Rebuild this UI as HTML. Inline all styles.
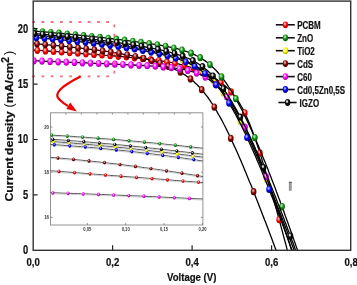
<!DOCTYPE html>
<html><head><meta charset="utf-8"><style>
html,body{margin:0;padding:0;background:#fff;width:357px;height:285px;overflow:hidden}
svg{display:block}
</style></head><body>
<svg width="357" height="285" viewBox="0 0 357 285">
<defs>
<radialGradient id="gred" cx="0.42" cy="0.36" r="0.65"><stop offset="0" stop-color="#ffb0b0"/><stop offset="0.12" stop-color="#ffb0b0"/><stop offset="0.5" stop-color="#ff0000"/><stop offset="1" stop-color="#b00000"/></radialGradient>
<radialGradient id="ggreen" cx="0.42" cy="0.36" r="0.65"><stop offset="0" stop-color="#a0e8a0"/><stop offset="0.12" stop-color="#a0e8a0"/><stop offset="0.5" stop-color="#109010"/><stop offset="1" stop-color="#045004"/></radialGradient>
<radialGradient id="gyellow" cx="0.42" cy="0.36" r="0.65"><stop offset="0" stop-color="#ffffc0"/><stop offset="0.12" stop-color="#ffffc0"/><stop offset="0.5" stop-color="#ffff00"/><stop offset="1" stop-color="#a8a800"/></radialGradient>
<radialGradient id="gdarkred" cx="0.42" cy="0.36" r="0.65"><stop offset="0" stop-color="#e0a0a0"/><stop offset="0.12" stop-color="#e0a0a0"/><stop offset="0.5" stop-color="#8b0000"/><stop offset="1" stop-color="#420000"/></radialGradient>
<radialGradient id="gmagenta" cx="0.42" cy="0.36" r="0.65"><stop offset="0" stop-color="#ffb8ff"/><stop offset="0.12" stop-color="#ffb8ff"/><stop offset="0.5" stop-color="#ff00ff"/><stop offset="1" stop-color="#a000a0"/></radialGradient>
<radialGradient id="gblue" cx="0.42" cy="0.36" r="0.65"><stop offset="0" stop-color="#a0a0ff"/><stop offset="0.12" stop-color="#a0a0ff"/><stop offset="0.5" stop-color="#0000ff"/><stop offset="1" stop-color="#000088"/></radialGradient>
<radialGradient id="gblack" cx="0.4" cy="0.36" r="0.6"><stop offset="0" stop-color="#ffffff"/><stop offset="0.22" stop-color="#bbbbbb"/><stop offset="0.45" stop-color="#111"/><stop offset="1" stop-color="#000"/></radialGradient>
<clipPath id="cm"><rect x="33.1" y="1.2" width="317.6" height="249.1"/></clipPath>
<clipPath id="ci"><rect x="50.5" y="112.8" width="152.4" height="112.2"/></clipPath>
</defs>
<g clip-path="url(#cm)">
<polyline points="33.1,50.0 37.9,50.4 42.7,50.7 47.5,51.0 52.3,51.4 57.1,51.7 61.9,52.1 66.7,52.4 71.5,52.8 76.3,53.1 81.1,53.5 85.9,53.8 90.7,54.2 95.5,54.5 100.3,54.9 105.1,55.3 109.9,55.6 114.7,56.0 119.5,56.4 124.3,56.8 129.0,57.3 133.8,57.7 138.6,58.2 143.4,58.7 148.2,59.2 153.0,59.8 157.8,60.4 162.6,61.1 167.4,61.8 172.2,62.7 172.2,62.7 173.2,62.9 174.2,63.1 175.2,63.3 176.2,63.5 177.2,63.7 178.2,63.9 179.2,64.1 180.2,64.4 181.2,64.6 182.2,64.9 183.2,65.1 184.2,65.4 185.2,65.6 186.2,65.9 187.2,66.2 188.2,66.5 189.2,66.8 190.2,67.1 191.2,67.4 192.2,67.7 193.2,68.0 194.2,68.4 195.2,68.7 196.2,69.1 197.2,69.5 198.3,69.8 199.3,70.2 200.3,70.6 201.3,71.1 202.3,71.5 203.3,71.9 204.3,72.4 205.3,72.9 206.3,73.4 207.3,73.9 208.3,74.4 209.3,74.9 210.3,75.5 211.3,76.0 212.3,76.6 213.3,77.2 214.3,77.8 215.3,78.5 216.3,79.1 217.3,79.8 218.3,80.5 219.3,81.2 220.3,82.0 221.3,82.7 222.3,83.5 223.3,84.4 224.3,85.2 225.3,86.1 226.3,87.0 227.3,87.9 228.3,88.9 229.3,89.9 230.3,91.0 231.3,92.1 232.3,93.2 233.3,94.4 234.3,95.7 235.3,97.0 236.3,98.3 237.3,99.8 238.3,101.3 239.3,102.8 240.3,104.5 241.3,106.2 242.3,108.0 243.3,109.9 244.3,111.9 245.3,114.0 246.3,116.1 247.3,118.4 248.3,120.7 249.3,123.1 250.3,125.6 251.3,128.2 252.3,130.8 253.3,133.5 254.3,136.3 255.3,139.1 256.3,142.0 257.3,145.0 258.3,148.0 259.3,151.1 260.3,154.2 261.3,157.4 262.3,160.6 263.3,163.9 264.3,167.2 265.3,170.5 266.3,173.9 267.3,177.3 268.3,180.7 269.3,184.2 270.3,187.7 271.3,191.2 272.3,194.7 273.3,198.3 274.3,201.9 275.3,205.5 276.3,209.1 277.3,212.8 278.3,216.5 279.3,220.1 280.3,223.8 281.3,227.6 282.3,231.3 283.3,235.1 284.3,238.8 285.3,242.6 286.3,246.4 287.3,250.2 288.3,254.0 289.3,257.8 290.3,261.7 291.3,265.5" fill="none" stroke="#000" stroke-width="1.3"/>
<ellipse cx="37.3" cy="50.3" rx="2.85" ry="3.6" fill="url(#gred)"/>
<ellipse cx="45.4" cy="50.9" rx="2.85" ry="3.6" fill="url(#gred)"/>
<ellipse cx="53.5" cy="51.5" rx="2.85" ry="3.6" fill="url(#gred)"/>
<ellipse cx="61.6" cy="52.0" rx="2.85" ry="3.6" fill="url(#gred)"/>
<ellipse cx="69.7" cy="52.6" rx="2.85" ry="3.6" fill="url(#gred)"/>
<ellipse cx="77.8" cy="53.2" rx="2.85" ry="3.6" fill="url(#gred)"/>
<ellipse cx="85.9" cy="53.8" rx="2.85" ry="3.6" fill="url(#gred)"/>
<ellipse cx="94.0" cy="54.4" rx="2.85" ry="3.6" fill="url(#gred)"/>
<ellipse cx="102.1" cy="55.0" rx="2.85" ry="3.6" fill="url(#gred)"/>
<ellipse cx="110.2" cy="55.7" rx="2.85" ry="3.6" fill="url(#gred)"/>
<ellipse cx="118.3" cy="56.3" rx="2.85" ry="3.6" fill="url(#gred)"/>
<ellipse cx="126.4" cy="57.0" rx="2.85" ry="3.6" fill="url(#gred)"/>
<ellipse cx="134.5" cy="57.8" rx="2.85" ry="3.6" fill="url(#gred)"/>
<ellipse cx="142.6" cy="58.6" rx="2.85" ry="3.6" fill="url(#gred)"/>
<ellipse cx="150.7" cy="59.5" rx="2.85" ry="3.6" fill="url(#gred)"/>
<ellipse cx="158.8" cy="60.5" rx="2.85" ry="3.6" fill="url(#gred)"/>
<ellipse cx="166.9" cy="61.8" rx="2.85" ry="3.6" fill="url(#gred)"/>
<ellipse cx="175.0" cy="63.2" rx="2.85" ry="3.6" fill="url(#gred)"/>
<ellipse cx="184.5" cy="65.4" rx="2.85" ry="3.6" fill="url(#gred)"/>
<ellipse cx="193.5" cy="68.1" rx="2.85" ry="3.6" fill="url(#gred)"/>
<ellipse cx="202.5" cy="71.6" rx="2.85" ry="3.6" fill="url(#gred)"/>
<ellipse cx="211.7" cy="76.3" rx="2.85" ry="3.6" fill="url(#gred)"/>
<ellipse cx="220.9" cy="82.5" rx="2.85" ry="3.6" fill="url(#gred)"/>
<ellipse cx="231.1" cy="91.9" rx="2.85" ry="3.6" fill="url(#gred)"/>
<ellipse cx="244.8" cy="112.9" rx="2.85" ry="3.6" fill="url(#gred)"/>
<ellipse cx="259.9" cy="152.9" rx="2.85" ry="3.6" fill="url(#gred)"/>
<ellipse cx="279.2" cy="219.7" rx="2.85" ry="3.6" fill="url(#gred)"/>
<ellipse cx="288.3" cy="253.9" rx="2.85" ry="3.6" fill="url(#gred)"/>
<polyline points="33.1,31.0 37.9,31.4 42.7,31.8 47.5,32.2 52.3,32.6 57.1,33.1 61.9,33.5 66.7,34.0 71.5,34.4 76.3,34.9 81.1,35.4 85.9,35.9 90.7,36.4 95.5,36.9 100.3,37.4 105.1,37.9 109.9,38.5 114.7,39.0 119.5,39.6 124.3,40.2 129.0,40.8 133.8,41.4 138.6,42.1 143.4,42.7 148.2,43.4 153.0,44.1 157.8,44.9 162.6,45.7 167.4,46.6 172.2,47.6 172.2,47.6 173.3,47.9 174.4,48.1 175.5,48.4 176.6,48.6 177.7,48.9 178.7,49.2 179.8,49.5 180.9,49.8 182.0,50.1 183.1,50.4 184.2,50.7 185.3,51.1 186.4,51.4 187.4,51.8 188.5,52.2 189.6,52.6 190.7,53.0 191.8,53.5 192.9,53.9 194.0,54.4 195.0,54.9 196.1,55.5 197.2,56.0 198.3,56.6 199.4,57.2 200.5,57.8 201.6,58.5 202.7,59.2 203.7,59.9 204.8,60.6 205.9,61.4 207.0,62.2 208.1,63.1 209.2,64.0 210.3,64.9 211.3,65.9 212.4,66.9 213.5,67.9 214.6,69.0 215.7,70.1 216.8,71.3 217.9,72.5 219.0,73.8 220.0,75.1 221.1,76.4 222.2,77.8 223.3,79.2 224.4,80.7 225.5,82.2 226.6,83.7 227.6,85.3 228.7,87.0 229.8,88.7 230.9,90.4 232.0,92.2 233.1,94.0 234.2,95.8 235.3,97.7 236.3,99.6 237.4,101.6 238.5,103.6 239.6,105.6 240.7,107.7 241.8,109.8 242.9,112.0 243.9,114.2 245.0,116.4 246.1,118.6 247.2,120.9 248.3,123.2 249.4,125.5 250.5,127.9 251.6,130.3 252.6,132.7 253.7,135.2 254.8,137.7 255.9,140.2 257.0,142.7 258.1,145.2 259.2,147.8 260.2,150.4 261.3,153.1 262.4,155.7 263.5,158.4 264.6,161.1 265.7,163.8 266.8,166.5 267.9,169.2 268.9,172.0 270.0,174.8 271.1,177.6 272.2,180.4 273.3,183.3 274.4,186.1 275.5,189.0 276.5,191.9 277.6,194.8 278.7,197.7 279.8,200.6 280.9,203.6 282.0,206.5 283.1,209.5 284.2,212.5 285.2,215.5 286.3,218.5 287.4,221.5 288.5,224.5 289.6,227.6 290.7,230.7 291.8,233.7 292.8,236.8 293.9,239.9 295.0,243.0 296.1,246.1 297.2,249.2 298.3,252.4 299.4,255.5 300.5,258.7 301.5,261.8" fill="none" stroke="#000" stroke-width="1.3"/>
<ellipse cx="34.4" cy="31.1" rx="2.85" ry="3.6" fill="url(#ggreen)"/>
<ellipse cx="42.6" cy="31.8" rx="2.85" ry="3.6" fill="url(#ggreen)"/>
<ellipse cx="50.8" cy="32.5" rx="2.85" ry="3.6" fill="url(#ggreen)"/>
<ellipse cx="59.0" cy="33.2" rx="2.85" ry="3.6" fill="url(#ggreen)"/>
<ellipse cx="67.2" cy="34.0" rx="2.85" ry="3.6" fill="url(#ggreen)"/>
<ellipse cx="75.4" cy="34.8" rx="2.85" ry="3.6" fill="url(#ggreen)"/>
<ellipse cx="83.6" cy="35.6" rx="2.85" ry="3.6" fill="url(#ggreen)"/>
<ellipse cx="91.8" cy="36.5" rx="2.85" ry="3.6" fill="url(#ggreen)"/>
<ellipse cx="100.0" cy="37.4" rx="2.85" ry="3.6" fill="url(#ggreen)"/>
<ellipse cx="108.2" cy="38.3" rx="2.85" ry="3.6" fill="url(#ggreen)"/>
<ellipse cx="116.4" cy="39.2" rx="2.85" ry="3.6" fill="url(#ggreen)"/>
<ellipse cx="124.6" cy="40.2" rx="2.85" ry="3.6" fill="url(#ggreen)"/>
<ellipse cx="132.8" cy="41.3" rx="2.85" ry="3.6" fill="url(#ggreen)"/>
<ellipse cx="141.0" cy="42.4" rx="2.85" ry="3.6" fill="url(#ggreen)"/>
<ellipse cx="149.2" cy="43.6" rx="2.85" ry="3.6" fill="url(#ggreen)"/>
<ellipse cx="157.4" cy="44.8" rx="2.85" ry="3.6" fill="url(#ggreen)"/>
<ellipse cx="165.6" cy="46.3" rx="2.85" ry="3.6" fill="url(#ggreen)"/>
<ellipse cx="173.8" cy="48.0" rx="2.85" ry="3.6" fill="url(#ggreen)"/>
<ellipse cx="182.0" cy="50.1" rx="2.85" ry="3.6" fill="url(#ggreen)"/>
<ellipse cx="191.0" cy="53.2" rx="2.85" ry="3.6" fill="url(#ggreen)"/>
<ellipse cx="200.2" cy="57.7" rx="2.85" ry="3.6" fill="url(#ggreen)"/>
<ellipse cx="209.9" cy="64.6" rx="2.85" ry="3.6" fill="url(#ggreen)"/>
<ellipse cx="221.5" cy="76.9" rx="2.85" ry="3.6" fill="url(#ggreen)"/>
<ellipse cx="235.8" cy="98.7" rx="2.85" ry="3.6" fill="url(#ggreen)"/>
<ellipse cx="254.8" cy="137.6" rx="2.85" ry="3.6" fill="url(#ggreen)"/>
<ellipse cx="282.0" cy="206.6" rx="2.85" ry="3.6" fill="url(#ggreen)"/>
<polyline points="33.1,35.0 37.9,35.4 42.7,35.9 47.5,36.3 52.3,36.8 57.1,37.2 61.9,37.7 66.7,38.2 71.5,38.8 76.3,39.3 81.1,39.9 85.9,40.4 90.7,41.0 95.5,41.7 100.3,42.3 105.1,43.0 109.9,43.6 114.7,44.4 119.5,45.1 124.3,45.9 129.0,46.7 133.8,47.5 138.6,48.3 143.4,49.2 148.2,50.2 153.0,51.2 157.8,52.2 162.6,53.4 167.4,54.6 172.2,55.9 172.2,55.9 173.3,56.3 174.3,56.6 175.4,56.9 176.5,57.3 177.5,57.6 178.6,58.0 179.6,58.3 180.7,58.7 181.7,59.1 182.8,59.5 183.9,60.0 184.9,60.4 186.0,60.8 187.0,61.3 188.1,61.8 189.1,62.3 190.2,62.8 191.3,63.3 192.3,63.9 193.4,64.4 194.4,65.0 195.5,65.6 196.6,66.3 197.6,67.0 198.7,67.6 199.7,68.4 200.8,69.1 201.8,69.9 202.9,70.7 204.0,71.5 205.0,72.4 206.1,73.2 207.1,74.2 208.2,75.1 209.2,76.1 210.3,77.1 211.4,78.2 212.4,79.3 213.5,80.4 214.5,81.6 215.6,82.8 216.6,84.0 217.7,85.3 218.8,86.6 219.8,88.0 220.9,89.4 221.9,90.8 223.0,92.3 224.1,93.8 225.1,95.3 226.2,96.9 227.2,98.5 228.3,100.1 229.3,101.8 230.4,103.5 231.5,105.3 232.5,107.1 233.6,108.9 234.6,110.7 235.7,112.6 236.7,114.5 237.8,116.5 238.9,118.4 239.9,120.5 241.0,122.5 242.0,124.6 243.1,126.6 244.1,128.8 245.2,130.9 246.3,133.1 247.3,135.3 248.4,137.5 249.4,139.7 250.5,142.0 251.6,144.3 252.6,146.6 253.7,148.9 254.7,151.3 255.8,153.7 256.8,156.1 257.9,158.5 259.0,160.9 260.0,163.4 261.1,165.9 262.1,168.4 263.2,170.9 264.2,173.4 265.3,175.9 266.4,178.5 267.4,181.1 268.5,183.7 269.5,186.3 270.6,188.9 271.6,191.5 272.7,194.2 273.8,196.8 274.8,199.5 275.9,202.2 276.9,204.9 278.0,207.6 279.0,210.3 280.1,213.1 281.2,215.8 282.2,218.6 283.3,221.4 284.3,224.1 285.4,226.9 286.5,229.7 287.5,232.5 288.6,235.4 289.6,238.2 290.7,241.0 291.7,243.9 292.8,246.7 293.9,249.6 294.9,252.5 296.0,255.4 297.0,258.3 298.1,261.2" fill="none" stroke="#000" stroke-width="1.3"/>
<ellipse cx="34.4" cy="35.1" rx="2.85" ry="3.6" fill="url(#gyellow)"/>
<ellipse cx="42.6" cy="35.9" rx="2.85" ry="3.6" fill="url(#gyellow)"/>
<ellipse cx="50.9" cy="36.6" rx="2.85" ry="3.6" fill="url(#gyellow)"/>
<ellipse cx="59.1" cy="37.4" rx="2.85" ry="3.6" fill="url(#gyellow)"/>
<ellipse cx="67.4" cy="38.3" rx="2.85" ry="3.6" fill="url(#gyellow)"/>
<ellipse cx="75.6" cy="39.2" rx="2.85" ry="3.6" fill="url(#gyellow)"/>
<ellipse cx="83.8" cy="40.2" rx="2.85" ry="3.6" fill="url(#gyellow)"/>
<ellipse cx="92.1" cy="41.2" rx="2.85" ry="3.6" fill="url(#gyellow)"/>
<ellipse cx="100.3" cy="42.3" rx="2.85" ry="3.6" fill="url(#gyellow)"/>
<ellipse cx="108.6" cy="43.5" rx="2.85" ry="3.6" fill="url(#gyellow)"/>
<ellipse cx="116.8" cy="44.7" rx="2.85" ry="3.6" fill="url(#gyellow)"/>
<ellipse cx="125.0" cy="46.0" rx="2.85" ry="3.6" fill="url(#gyellow)"/>
<ellipse cx="133.3" cy="47.4" rx="2.85" ry="3.6" fill="url(#gyellow)"/>
<ellipse cx="141.5" cy="48.9" rx="2.85" ry="3.6" fill="url(#gyellow)"/>
<ellipse cx="149.8" cy="50.5" rx="2.85" ry="3.6" fill="url(#gyellow)"/>
<ellipse cx="158.0" cy="52.3" rx="2.85" ry="3.6" fill="url(#gyellow)"/>
<ellipse cx="166.2" cy="54.3" rx="2.85" ry="3.6" fill="url(#gyellow)"/>
<ellipse cx="174.5" cy="56.6" rx="2.85" ry="3.6" fill="url(#gyellow)"/>
<ellipse cx="182.7" cy="59.5" rx="2.85" ry="3.6" fill="url(#gyellow)"/>
<ellipse cx="192.9" cy="64.2" rx="2.85" ry="3.6" fill="url(#gyellow)"/>
<ellipse cx="202.5" cy="70.4" rx="2.85" ry="3.6" fill="url(#gyellow)"/>
<ellipse cx="213.0" cy="79.9" rx="2.85" ry="3.6" fill="url(#gyellow)"/>
<ellipse cx="223.4" cy="92.8" rx="2.85" ry="3.6" fill="url(#gyellow)"/>
<ellipse cx="240.3" cy="121.2" rx="2.85" ry="3.6" fill="url(#gyellow)"/>
<ellipse cx="266.7" cy="179.3" rx="2.85" ry="3.6" fill="url(#gyellow)"/>
<polyline points="33.1,43.4 37.9,43.9 42.7,44.3 47.5,44.8 52.3,45.2 57.1,45.7 61.9,46.2 66.7,46.7 71.5,47.2 76.3,47.7 81.1,48.2 85.9,48.8 90.7,49.3 95.5,49.9 100.3,50.6 105.1,51.2 109.9,51.9 114.7,52.7 119.5,53.5 124.3,54.3 129.0,55.2 133.8,56.2 138.6,57.3 143.4,58.4 148.2,59.7 153.0,61.0 157.8,62.5 162.6,64.2 167.4,66.0 172.2,68.1 172.2,68.1 173.1,68.5 174.0,68.9 174.9,69.3 175.8,69.8 176.8,70.2 177.7,70.7 178.6,71.2 179.5,71.7 180.4,72.2 181.3,72.7 182.2,73.2 183.1,73.8 184.0,74.4 184.9,74.9 185.8,75.5 186.7,76.2 187.6,76.8 188.5,77.5 189.4,78.1 190.3,78.8 191.3,79.5 192.2,80.3 193.1,81.0 194.0,81.8 194.9,82.7 195.8,83.5 196.7,84.4 197.6,85.3 198.5,86.2 199.4,87.1 200.3,88.1 201.2,89.1 202.1,90.2 203.0,91.2 203.9,92.3 204.8,93.5 205.7,94.6 206.7,95.8 207.6,97.0 208.5,98.3 209.4,99.6 210.3,100.9 211.2,102.3 212.1,103.6 213.0,105.1 213.9,106.5 214.8,108.0 215.7,109.5 216.6,111.0 217.5,112.6 218.4,114.2 219.3,115.8 220.2,117.4 221.2,119.1 222.1,120.8 223.0,122.5 223.9,124.3 224.8,126.0 225.7,127.8 226.6,129.6 227.5,131.5 228.4,133.3 229.3,135.2 230.2,137.1 231.1,139.1 232.0,141.0 232.9,143.0 233.8,144.9 234.7,146.9 235.7,148.9 236.6,151.0 237.5,153.0 238.4,155.1 239.3,157.2 240.2,159.2 241.1,161.3 242.0,163.5 242.9,165.6 243.8,167.7 244.7,169.9 245.6,172.1 246.5,174.3 247.4,176.4 248.3,178.7 249.2,180.9 250.1,183.1 251.1,185.3 252.0,187.6 252.9,189.8 253.8,192.1 254.7,194.4 255.6,196.7 256.5,199.0 257.4,201.3 258.3,203.6 259.2,205.9 260.1,208.2 261.0,210.6 261.9,212.9 262.8,215.2 263.7,217.6 264.6,220.0 265.6,222.3 266.5,224.7 267.4,227.1 268.3,229.5 269.2,231.9 270.1,234.3 271.0,236.7 271.9,239.1 272.8,241.5 273.7,243.9 274.6,246.4 275.5,248.8 276.4,251.2 277.3,253.7 278.2,256.1 279.1,258.6 280.0,261.0" fill="none" stroke="#000" stroke-width="1.3"/>
<ellipse cx="37.0" cy="43.8" rx="2.85" ry="3.6" fill="url(#gdarkred)"/>
<ellipse cx="45.2" cy="44.6" rx="2.85" ry="3.6" fill="url(#gdarkred)"/>
<ellipse cx="53.4" cy="45.3" rx="2.85" ry="3.6" fill="url(#gdarkred)"/>
<ellipse cx="61.6" cy="46.1" rx="2.85" ry="3.6" fill="url(#gdarkred)"/>
<ellipse cx="69.8" cy="47.0" rx="2.85" ry="3.6" fill="url(#gdarkred)"/>
<ellipse cx="78.0" cy="47.9" rx="2.85" ry="3.6" fill="url(#gdarkred)"/>
<ellipse cx="86.2" cy="48.8" rx="2.85" ry="3.6" fill="url(#gdarkred)"/>
<ellipse cx="94.4" cy="49.8" rx="2.85" ry="3.6" fill="url(#gdarkred)"/>
<ellipse cx="102.6" cy="50.9" rx="2.85" ry="3.6" fill="url(#gdarkred)"/>
<ellipse cx="110.8" cy="52.1" rx="2.85" ry="3.6" fill="url(#gdarkred)"/>
<ellipse cx="119.0" cy="53.4" rx="2.85" ry="3.6" fill="url(#gdarkred)"/>
<ellipse cx="127.2" cy="54.9" rx="2.85" ry="3.6" fill="url(#gdarkred)"/>
<ellipse cx="135.4" cy="56.5" rx="2.85" ry="3.6" fill="url(#gdarkred)"/>
<ellipse cx="143.6" cy="58.4" rx="2.85" ry="3.6" fill="url(#gdarkred)"/>
<ellipse cx="151.8" cy="60.7" rx="2.85" ry="3.6" fill="url(#gdarkred)"/>
<ellipse cx="160.0" cy="63.2" rx="2.85" ry="3.6" fill="url(#gdarkred)"/>
<ellipse cx="168.2" cy="66.3" rx="2.85" ry="3.6" fill="url(#gdarkred)"/>
<ellipse cx="180.4" cy="72.2" rx="2.85" ry="3.6" fill="url(#gdarkred)"/>
<ellipse cx="190.5" cy="78.9" rx="2.85" ry="3.6" fill="url(#gdarkred)"/>
<ellipse cx="201.7" cy="89.7" rx="2.85" ry="3.6" fill="url(#gdarkred)"/>
<ellipse cx="214.3" cy="107.1" rx="2.85" ry="3.6" fill="url(#gdarkred)"/>
<ellipse cx="230.8" cy="138.4" rx="2.85" ry="3.6" fill="url(#gdarkred)"/>
<ellipse cx="253.6" cy="191.7" rx="2.85" ry="3.6" fill="url(#gdarkred)"/>
<polyline points="33.1,60.7 37.9,60.9 42.7,61.1 47.5,61.3 52.3,61.5 57.1,61.7 61.9,61.9 66.7,62.1 71.5,62.3 76.3,62.5 81.1,62.7 85.9,62.9 90.7,63.1 95.5,63.3 100.3,63.5 105.1,63.7 109.9,64.0 114.7,64.2 119.5,64.4 124.3,64.6 129.0,64.8 133.8,65.0 138.6,65.3 143.4,65.5 148.2,65.8 153.0,66.1 157.8,66.4 162.6,66.8 167.4,67.2 172.2,67.8 172.2,67.8 173.3,67.9 174.3,68.0 175.3,68.2 176.4,68.3 177.4,68.4 178.4,68.6 179.5,68.8 180.5,68.9 181.6,69.1 182.6,69.3 183.6,69.5 184.7,69.7 185.7,70.0 186.7,70.2 187.8,70.4 188.8,70.7 189.9,71.0 190.9,71.3 191.9,71.6 193.0,71.9 194.0,72.2 195.0,72.6 196.1,72.9 197.1,73.3 198.1,73.7 199.2,74.2 200.2,74.6 201.3,75.1 202.3,75.6 203.3,76.1 204.4,76.7 205.4,77.3 206.4,77.9 207.5,78.5 208.5,79.2 209.6,79.9 210.6,80.6 211.6,81.4 212.7,82.2 213.7,83.0 214.7,83.9 215.8,84.8 216.8,85.7 217.8,86.7 218.9,87.7 219.9,88.8 221.0,89.9 222.0,91.0 223.0,92.2 224.1,93.4 225.1,94.7 226.1,96.0 227.2,97.4 228.2,98.8 229.3,100.2 230.3,101.7 231.3,103.2 232.4,104.8 233.4,106.4 234.4,108.0 235.5,109.7 236.5,111.5 237.5,113.2 238.6,115.0 239.6,116.9 240.7,118.8 241.7,120.8 242.7,122.7 243.8,124.8 244.8,126.8 245.8,128.9 246.9,131.0 247.9,133.2 249.0,135.4 250.0,137.7 251.0,139.9 252.1,142.3 253.1,144.6 254.1,147.0 255.2,149.4 256.2,151.8 257.3,154.3 258.3,156.8 259.3,159.4 260.4,161.9 261.4,164.5 262.4,167.1 263.5,169.8 264.5,172.5 265.5,175.2 266.6,177.9 267.6,180.6 268.7,183.4 269.7,186.2 270.7,189.0 271.8,191.9 272.8,194.8 273.8,197.7 274.9,200.6 275.9,203.5 277.0,206.5 278.0,209.4 279.0,212.4 280.1,215.4 281.1,218.5 282.1,221.5 283.2,224.6 284.2,227.7 285.2,230.8 286.3,233.9 287.3,237.1 288.4,240.2 289.4,243.4 290.4,246.6 291.5,249.8 292.5,253.0 293.5,256.2 294.6,259.5 295.6,262.7" fill="none" stroke="#000" stroke-width="1.3"/>
<ellipse cx="33.9" cy="60.8" rx="2.85" ry="3.6" fill="url(#gmagenta)"/>
<ellipse cx="42.0" cy="61.1" rx="2.85" ry="3.6" fill="url(#gmagenta)"/>
<ellipse cx="50.1" cy="61.4" rx="2.85" ry="3.6" fill="url(#gmagenta)"/>
<ellipse cx="58.2" cy="61.8" rx="2.85" ry="3.6" fill="url(#gmagenta)"/>
<ellipse cx="66.3" cy="62.1" rx="2.85" ry="3.6" fill="url(#gmagenta)"/>
<ellipse cx="74.4" cy="62.4" rx="2.85" ry="3.6" fill="url(#gmagenta)"/>
<ellipse cx="82.4" cy="62.8" rx="2.85" ry="3.6" fill="url(#gmagenta)"/>
<ellipse cx="90.5" cy="63.1" rx="2.85" ry="3.6" fill="url(#gmagenta)"/>
<ellipse cx="98.6" cy="63.5" rx="2.85" ry="3.6" fill="url(#gmagenta)"/>
<ellipse cx="106.7" cy="63.8" rx="2.85" ry="3.6" fill="url(#gmagenta)"/>
<ellipse cx="114.8" cy="64.2" rx="2.85" ry="3.6" fill="url(#gmagenta)"/>
<ellipse cx="122.9" cy="64.5" rx="2.85" ry="3.6" fill="url(#gmagenta)"/>
<ellipse cx="131.0" cy="64.9" rx="2.85" ry="3.6" fill="url(#gmagenta)"/>
<ellipse cx="139.1" cy="65.3" rx="2.85" ry="3.6" fill="url(#gmagenta)"/>
<ellipse cx="147.2" cy="65.7" rx="2.85" ry="3.6" fill="url(#gmagenta)"/>
<ellipse cx="155.3" cy="66.2" rx="2.85" ry="3.6" fill="url(#gmagenta)"/>
<ellipse cx="163.3" cy="66.9" rx="2.85" ry="3.6" fill="url(#gmagenta)"/>
<ellipse cx="171.4" cy="67.7" rx="2.85" ry="3.6" fill="url(#gmagenta)"/>
<ellipse cx="179.5" cy="68.8" rx="2.85" ry="3.6" fill="url(#gmagenta)"/>
<ellipse cx="187.7" cy="70.4" rx="2.85" ry="3.6" fill="url(#gmagenta)"/>
<ellipse cx="196.6" cy="73.1" rx="2.85" ry="3.6" fill="url(#gmagenta)"/>
<ellipse cx="205.3" cy="77.2" rx="2.85" ry="3.6" fill="url(#gmagenta)"/>
<ellipse cx="215.5" cy="84.5" rx="2.85" ry="3.6" fill="url(#gmagenta)"/>
<ellipse cx="226.9" cy="97.0" rx="2.85" ry="3.6" fill="url(#gmagenta)"/>
<ellipse cx="245.0" cy="127.2" rx="2.85" ry="3.6" fill="url(#gmagenta)"/>
<ellipse cx="266.1" cy="176.6" rx="2.85" ry="3.6" fill="url(#gmagenta)"/>
<polyline points="33.1,37.5 37.9,37.8 42.7,38.2 47.5,38.6 52.3,39.0 57.1,39.4 61.9,39.9 66.7,40.3 71.5,40.8 76.3,41.3 81.1,41.8 85.9,42.3 90.7,42.9 95.5,43.4 100.3,44.0 105.1,44.6 109.9,45.3 114.7,45.9 119.5,46.6 124.3,47.3 129.0,48.1 133.8,48.9 138.6,49.7 143.4,50.6 148.2,51.5 153.0,52.5 157.8,53.5 162.6,54.6 167.4,55.8 172.2,57.1 172.2,57.1 173.3,57.4 174.3,57.8 175.3,58.1 176.4,58.4 177.4,58.8 178.5,59.1 179.5,59.5 180.5,59.8 181.6,60.2 182.6,60.6 183.7,61.0 184.7,61.4 185.8,61.9 186.8,62.3 187.8,62.8 188.9,63.3 189.9,63.8 191.0,64.3 192.0,64.8 193.0,65.4 194.1,66.0 195.1,66.5 196.2,67.2 197.2,67.8 198.2,68.5 199.3,69.2 200.3,69.9 201.4,70.7 202.4,71.4 203.4,72.2 204.5,73.1 205.5,73.9 206.6,74.9 207.6,75.8 208.6,76.8 209.7,77.8 210.7,78.8 211.8,79.9 212.8,81.0 213.8,82.1 214.9,83.3 215.9,84.5 217.0,85.8 218.0,87.1 219.0,88.4 220.1,89.8 221.1,91.2 222.2,92.7 223.2,94.2 224.3,95.7 225.3,97.3 226.3,98.9 227.4,100.5 228.4,102.2 229.5,103.9 230.5,105.6 231.5,107.4 232.6,109.2 233.6,111.0 234.7,112.9 235.7,114.8 236.7,116.8 237.8,118.7 238.8,120.7 239.9,122.8 240.9,124.8 241.9,126.9 243.0,129.0 244.0,131.2 245.1,133.3 246.1,135.5 247.1,137.8 248.2,140.0 249.2,142.3 250.3,144.6 251.3,146.9 252.3,149.2 253.4,151.6 254.4,153.9 255.5,156.3 256.5,158.8 257.5,161.2 258.6,163.6 259.6,166.1 260.7,168.6 261.7,171.1 262.7,173.6 263.8,176.2 264.8,178.7 265.9,181.3 266.9,183.9 268.0,186.5 269.0,189.1 270.0,191.8 271.1,194.4 272.1,197.1 273.2,199.7 274.2,202.4 275.2,205.1 276.3,207.8 277.3,210.6 278.4,213.3 279.4,216.0 280.4,218.8 281.5,221.6 282.5,224.3 283.6,227.1 284.6,229.9 285.6,232.7 286.7,235.6 287.7,238.4 288.8,241.2 289.8,244.1 290.8,246.9 291.9,249.8 292.9,252.7 294.0,255.5 295.0,258.4 296.0,261.3" fill="none" stroke="#000" stroke-width="1.3"/>
<ellipse cx="36.3" cy="37.7" rx="2.85" ry="3.6" fill="url(#gblue)"/>
<ellipse cx="44.5" cy="38.3" rx="2.85" ry="3.6" fill="url(#gblue)"/>
<ellipse cx="52.7" cy="39.0" rx="2.85" ry="3.6" fill="url(#gblue)"/>
<ellipse cx="60.9" cy="39.8" rx="2.85" ry="3.6" fill="url(#gblue)"/>
<ellipse cx="69.1" cy="40.6" rx="2.85" ry="3.6" fill="url(#gblue)"/>
<ellipse cx="77.3" cy="41.4" rx="2.85" ry="3.6" fill="url(#gblue)"/>
<ellipse cx="85.5" cy="42.3" rx="2.85" ry="3.6" fill="url(#gblue)"/>
<ellipse cx="93.7" cy="43.2" rx="2.85" ry="3.6" fill="url(#gblue)"/>
<ellipse cx="101.9" cy="44.2" rx="2.85" ry="3.6" fill="url(#gblue)"/>
<ellipse cx="110.1" cy="45.3" rx="2.85" ry="3.6" fill="url(#gblue)"/>
<ellipse cx="118.3" cy="46.5" rx="2.85" ry="3.6" fill="url(#gblue)"/>
<ellipse cx="126.5" cy="47.7" rx="2.85" ry="3.6" fill="url(#gblue)"/>
<ellipse cx="134.7" cy="49.0" rx="2.85" ry="3.6" fill="url(#gblue)"/>
<ellipse cx="142.9" cy="50.5" rx="2.85" ry="3.6" fill="url(#gblue)"/>
<ellipse cx="151.1" cy="52.1" rx="2.85" ry="3.6" fill="url(#gblue)"/>
<ellipse cx="159.3" cy="53.8" rx="2.85" ry="3.6" fill="url(#gblue)"/>
<ellipse cx="167.5" cy="55.8" rx="2.85" ry="3.6" fill="url(#gblue)"/>
<ellipse cx="175.7" cy="58.2" rx="2.85" ry="3.6" fill="url(#gblue)"/>
<ellipse cx="185.6" cy="61.8" rx="2.85" ry="3.6" fill="url(#gblue)"/>
<ellipse cx="194.7" cy="66.3" rx="2.85" ry="3.6" fill="url(#gblue)"/>
<ellipse cx="205.0" cy="73.5" rx="2.85" ry="3.6" fill="url(#gblue)"/>
<ellipse cx="216.1" cy="84.8" rx="2.85" ry="3.6" fill="url(#gblue)"/>
<ellipse cx="229.0" cy="103.1" rx="2.85" ry="3.6" fill="url(#gblue)"/>
<ellipse cx="247.0" cy="137.5" rx="2.85" ry="3.6" fill="url(#gblue)"/>
<ellipse cx="269.1" cy="189.4" rx="2.85" ry="3.6" fill="url(#gblue)"/>
<polyline points="33.1,33.6 37.9,33.9 42.7,34.3 47.5,34.7 52.3,35.2 57.1,35.6 61.9,36.0 66.7,36.5 71.5,37.0 76.3,37.5 81.1,38.0 85.9,38.5 90.7,39.1 95.5,39.6 100.3,40.2 105.1,40.8 109.9,41.4 114.7,42.1 119.5,42.8 124.3,43.5 129.0,44.2 133.8,45.0 138.6,45.8 143.4,46.6 148.2,47.5 153.0,48.4 157.8,49.4 162.6,50.4 167.4,51.6 172.2,52.8 172.2,52.8 173.3,53.1 174.4,53.4 175.4,53.7 176.5,54.1 177.6,54.4 178.6,54.8 179.7,55.1 180.8,55.5 181.9,55.9 182.9,56.3 184.0,56.7 185.1,57.1 186.1,57.5 187.2,58.0 188.3,58.4 189.4,58.9 190.4,59.4 191.5,59.9 192.6,60.5 193.6,61.0 194.7,61.6 195.8,62.2 196.8,62.9 197.9,63.5 199.0,64.2 200.1,64.9 201.1,65.7 202.2,66.4 203.3,67.2 204.3,68.1 205.4,68.9 206.5,69.8 207.6,70.8 208.6,71.7 209.7,72.7 210.8,73.8 211.8,74.8 212.9,75.9 214.0,77.1 215.0,78.3 216.1,79.5 217.2,80.8 218.3,82.1 219.3,83.4 220.4,84.8 221.5,86.2 222.5,87.6 223.6,89.1 224.7,90.7 225.8,92.2 226.8,93.8 227.9,95.5 229.0,97.2 230.0,98.9 231.1,100.6 232.2,102.4 233.2,104.2 234.3,106.1 235.4,108.0 236.5,109.9 237.5,111.9 238.6,113.9 239.7,115.9 240.7,117.9 241.8,120.0 242.9,122.1 243.9,124.2 245.0,126.4 246.1,128.6 247.2,130.8 248.2,133.1 249.3,135.3 250.4,137.6 251.4,139.9 252.5,142.3 253.6,144.6 254.7,147.0 255.7,149.4 256.8,151.8 257.9,154.3 258.9,156.7 260.0,159.2 261.1,161.7 262.1,164.3 263.2,166.8 264.3,169.4 265.4,171.9 266.4,174.5 267.5,177.1 268.6,179.7 269.6,182.4 270.7,185.0 271.8,187.7 272.9,190.4 273.9,193.1 275.0,195.8 276.1,198.5 277.1,201.3 278.2,204.0 279.3,206.8 280.3,209.5 281.4,212.3 282.5,215.1 283.6,217.9 284.6,220.7 285.7,223.6 286.8,226.4 287.8,229.3 288.9,232.1 290.0,235.0 291.1,237.9 292.1,240.7 293.2,243.6 294.3,246.5 295.3,249.5 296.4,252.4 297.5,255.3 298.5,258.3 299.6,261.2" fill="none" stroke="#000" stroke-width="1.3"/>
<ellipse cx="34.4" cy="33.7" rx="2.85" ry="3.6" fill="url(#gblack)"/>
<ellipse cx="42.6" cy="34.3" rx="2.85" ry="3.6" fill="url(#gblack)"/>
<ellipse cx="50.9" cy="35.0" rx="2.85" ry="3.6" fill="url(#gblack)"/>
<ellipse cx="59.1" cy="35.8" rx="2.85" ry="3.6" fill="url(#gblack)"/>
<ellipse cx="67.4" cy="36.6" rx="2.85" ry="3.6" fill="url(#gblack)"/>
<ellipse cx="75.6" cy="37.4" rx="2.85" ry="3.6" fill="url(#gblack)"/>
<ellipse cx="83.8" cy="38.3" rx="2.85" ry="3.6" fill="url(#gblack)"/>
<ellipse cx="92.1" cy="39.2" rx="2.85" ry="3.6" fill="url(#gblack)"/>
<ellipse cx="100.3" cy="40.2" rx="2.85" ry="3.6" fill="url(#gblack)"/>
<ellipse cx="108.6" cy="41.3" rx="2.85" ry="3.6" fill="url(#gblack)"/>
<ellipse cx="116.8" cy="42.4" rx="2.85" ry="3.6" fill="url(#gblack)"/>
<ellipse cx="125.0" cy="43.6" rx="2.85" ry="3.6" fill="url(#gblack)"/>
<ellipse cx="133.3" cy="44.9" rx="2.85" ry="3.6" fill="url(#gblack)"/>
<ellipse cx="141.5" cy="46.2" rx="2.85" ry="3.6" fill="url(#gblack)"/>
<ellipse cx="149.8" cy="47.7" rx="2.85" ry="3.6" fill="url(#gblack)"/>
<ellipse cx="158.0" cy="49.4" rx="2.85" ry="3.6" fill="url(#gblack)"/>
<ellipse cx="166.2" cy="51.3" rx="2.85" ry="3.6" fill="url(#gblack)"/>
<ellipse cx="174.5" cy="53.5" rx="2.85" ry="3.6" fill="url(#gblack)"/>
<ellipse cx="182.7" cy="56.2" rx="2.85" ry="3.6" fill="url(#gblack)"/>
<ellipse cx="192.9" cy="60.7" rx="2.85" ry="3.6" fill="url(#gblack)"/>
<ellipse cx="202.5" cy="66.7" rx="2.85" ry="3.6" fill="url(#gblack)"/>
<ellipse cx="213.0" cy="76.0" rx="2.85" ry="3.6" fill="url(#gblack)"/>
<ellipse cx="223.4" cy="88.8" rx="2.85" ry="3.6" fill="url(#gblack)"/>
<ellipse cx="240.3" cy="117.1" rx="2.85" ry="3.6" fill="url(#gblack)"/>
<ellipse cx="263.5" cy="167.5" rx="2.85" ry="3.6" fill="url(#gblack)"/>
<ellipse cx="290.4" cy="236.1" rx="2.85" ry="3.6" fill="url(#gblack)"/>
</g>
<rect x="50.5" y="112.8" width="152.4" height="112.2" fill="none" stroke="#888" stroke-width="0.9"/>
<g clip-path="url(#ci)">
<polyline points="50.0,170.7 53.9,171.0 57.9,171.3 61.8,171.6 65.8,171.9 69.7,172.2 73.7,172.5 77.6,172.8 81.6,173.1 85.5,173.4 89.5,173.8 93.4,174.1 97.4,174.4 101.3,174.7 105.3,175.0 109.2,175.3 113.2,175.6 117.1,175.9 121.1,176.2 125.0,176.5 129.0,176.8 132.9,177.1 136.9,177.4 140.8,177.7 144.8,178.0 148.7,178.3 152.7,178.6 156.6,178.9 160.6,179.2 164.5,179.5 168.5,179.8 172.4,180.2 176.4,180.5 180.3,180.8 184.3,181.1 188.2,181.4 192.2,181.7 196.1,182.0 200.1,182.3 204.0,182.6" fill="none" stroke="#444" stroke-width="0.9"/>
<polyline points="50.0,171.7 53.9,172.0 57.9,172.3 61.8,172.6 65.8,172.9 69.7,173.2 73.7,173.5 77.6,173.8 81.6,174.1 85.5,174.4 89.5,174.8 93.4,175.1 97.4,175.4 101.3,175.7 105.3,176.0 109.2,176.3 113.2,176.6 117.1,176.9 121.1,177.2 125.0,177.5 129.0,177.8 132.9,178.1 136.9,178.4 140.8,178.7 144.8,179.0 148.7,179.3 152.7,179.6 156.6,179.9 160.6,180.2 164.5,180.5 168.5,180.8 172.4,181.2 176.4,181.5 180.3,181.8 184.3,182.1 188.2,182.4 192.2,182.7 196.1,183.0 200.1,183.3 204.0,183.6" fill="none" stroke="#bbb" stroke-width="0.7"/>
<polyline points="50.0,135.0 53.9,135.3 57.9,135.5 61.8,135.7 65.8,136.0 69.7,136.2 73.7,136.5 77.6,136.8 81.6,137.0 85.5,137.3 89.5,137.6 93.4,137.9 97.4,138.2 101.3,138.5 105.3,138.8 109.2,139.1 113.2,139.4 117.1,139.7 121.1,140.0 125.0,140.4 129.0,140.7 132.9,141.1 136.9,141.4 140.8,141.8 144.8,142.2 148.7,142.5 152.7,142.9 156.6,143.3 160.6,143.7 164.5,144.1 168.5,144.5 172.4,144.9 176.4,145.3 180.3,145.7 184.3,146.2 188.2,146.6 192.2,147.0 196.1,147.5 200.1,147.9 204.0,148.4" fill="none" stroke="#444" stroke-width="0.9"/>
<polyline points="50.0,136.0 53.9,136.3 57.9,136.5 61.8,136.7 65.8,137.0 69.7,137.2 73.7,137.5 77.6,137.8 81.6,138.0 85.5,138.3 89.5,138.6 93.4,138.9 97.4,139.2 101.3,139.5 105.3,139.8 109.2,140.1 113.2,140.4 117.1,140.7 121.1,141.0 125.0,141.4 129.0,141.7 132.9,142.1 136.9,142.4 140.8,142.8 144.8,143.2 148.7,143.5 152.7,143.9 156.6,144.3 160.6,144.7 164.5,145.1 168.5,145.5 172.4,145.9 176.4,146.3 180.3,146.7 184.3,147.2 188.2,147.6 192.2,148.0 196.1,148.5 200.1,148.9 204.0,149.4" fill="none" stroke="#bbb" stroke-width="0.7"/>
<polyline points="50.0,141.4 53.9,141.7 57.9,142.0 61.8,142.3 65.8,142.6 69.7,142.9 73.7,143.2 77.6,143.6 81.6,143.9 85.5,144.2 89.5,144.6 93.4,145.0 97.4,145.3 101.3,145.7 105.3,146.1 109.2,146.4 113.2,146.8 117.1,147.2 121.1,147.6 125.0,148.0 129.0,148.4 132.9,148.8 136.9,149.3 140.8,149.7 144.8,150.1 148.7,150.6 152.7,151.0 156.6,151.5 160.6,151.9 164.5,152.4 168.5,152.9 172.4,153.3 176.4,153.8 180.3,154.3 184.3,154.8 188.2,155.3 192.2,155.8 196.1,156.3 200.1,156.8 204.0,157.4" fill="none" stroke="#444" stroke-width="0.9"/>
<polyline points="50.0,142.4 53.9,142.7 57.9,143.0 61.8,143.3 65.8,143.6 69.7,143.9 73.7,144.2 77.6,144.6 81.6,144.9 85.5,145.2 89.5,145.6 93.4,146.0 97.4,146.3 101.3,146.7 105.3,147.1 109.2,147.4 113.2,147.8 117.1,148.2 121.1,148.6 125.0,149.0 129.0,149.4 132.9,149.8 136.9,150.3 140.8,150.7 144.8,151.1 148.7,151.6 152.7,152.0 156.6,152.5 160.6,152.9 164.5,153.4 168.5,153.9 172.4,154.3 176.4,154.8 180.3,155.3 184.3,155.8 188.2,156.3 192.2,156.8 196.1,157.3 200.1,157.8 204.0,158.4" fill="none" stroke="#bbb" stroke-width="0.7"/>
<polyline points="50.0,157.3 53.9,157.6 57.9,158.0 61.8,158.3 65.8,158.7 69.7,159.0 73.7,159.4 77.6,159.8 81.6,160.2 85.5,160.6 89.5,161.0 93.4,161.4 97.4,161.8 101.3,162.3 105.3,162.7 109.2,163.2 113.2,163.6 117.1,164.1 121.1,164.6 125.0,165.1 129.0,165.6 132.9,166.1 136.9,166.6 140.8,167.1 144.8,167.7 148.7,168.2 152.7,168.8 156.6,169.3 160.6,169.9 164.5,170.5 168.5,171.1 172.4,171.7 176.4,172.3 180.3,172.9 184.3,173.5 188.2,174.2 192.2,174.8 196.1,175.4 200.1,176.1 204.0,176.8" fill="none" stroke="#444" stroke-width="0.9"/>
<polyline points="50.0,158.3 53.9,158.6 57.9,159.0 61.8,159.3 65.8,159.7 69.7,160.0 73.7,160.4 77.6,160.8 81.6,161.2 85.5,161.6 89.5,162.0 93.4,162.4 97.4,162.8 101.3,163.3 105.3,163.7 109.2,164.2 113.2,164.6 117.1,165.1 121.1,165.6 125.0,166.1 129.0,166.6 132.9,167.1 136.9,167.6 140.8,168.1 144.8,168.7 148.7,169.2 152.7,169.8 156.6,170.3 160.6,170.9 164.5,171.5 168.5,172.1 172.4,172.7 176.4,173.3 180.3,173.9 184.3,174.5 188.2,175.2 192.2,175.8 196.1,176.4 200.1,177.1 204.0,177.8" fill="none" stroke="#bbb" stroke-width="0.7"/>
<polyline points="50.0,192.7 53.9,192.8 57.9,192.9 61.8,193.1 65.8,193.2 69.7,193.3 73.7,193.5 77.6,193.6 81.6,193.8 85.5,193.9 89.5,194.0 93.4,194.2 97.4,194.3 101.3,194.5 105.3,194.6 109.2,194.8 113.2,195.0 117.1,195.1 121.1,195.3 125.0,195.4 129.0,195.6 132.9,195.8 136.9,195.9 140.8,196.1 144.8,196.3 148.7,196.5 152.7,196.6 156.6,196.8 160.6,197.0 164.5,197.2 168.5,197.4 172.4,197.5 176.4,197.7 180.3,197.9 184.3,198.1 188.2,198.3 192.2,198.5 196.1,198.7 200.1,198.9 204.0,199.1" fill="none" stroke="#444" stroke-width="0.9"/>
<polyline points="50.0,193.7 53.9,193.8 57.9,193.9 61.8,194.1 65.8,194.2 69.7,194.3 73.7,194.5 77.6,194.6 81.6,194.8 85.5,194.9 89.5,195.0 93.4,195.2 97.4,195.3 101.3,195.5 105.3,195.6 109.2,195.8 113.2,196.0 117.1,196.1 121.1,196.3 125.0,196.4 129.0,196.6 132.9,196.8 136.9,196.9 140.8,197.1 144.8,197.3 148.7,197.5 152.7,197.6 156.6,197.8 160.6,198.0 164.5,198.2 168.5,198.4 172.4,198.5 176.4,198.7 180.3,198.9 184.3,199.1 188.2,199.3 192.2,199.5 196.1,199.7 200.1,199.9 204.0,200.1" fill="none" stroke="#bbb" stroke-width="0.7"/>
<polyline points="50.0,144.4 53.9,144.7 57.9,144.9 61.8,145.2 65.8,145.5 69.7,145.8 73.7,146.1 77.6,146.4 81.6,146.7 85.5,147.0 89.5,147.4 93.4,147.7 97.4,148.1 101.3,148.4 105.3,148.8 109.2,149.2 113.2,149.6 117.1,150.0 121.1,150.4 125.0,150.8 129.0,151.2 132.9,151.7 136.9,152.1 140.8,152.6 144.8,153.1 148.7,153.5 152.7,154.0 156.6,154.5 160.6,155.0 164.5,155.5 168.5,156.0 172.4,156.6 176.4,157.1 180.3,157.7 184.3,158.2 188.2,158.8 192.2,159.4 196.1,160.0 200.1,160.6 204.0,161.2" fill="none" stroke="#444" stroke-width="0.9"/>
<polyline points="50.0,145.4 53.9,145.7 57.9,145.9 61.8,146.2 65.8,146.5 69.7,146.8 73.7,147.1 77.6,147.4 81.6,147.7 85.5,148.0 89.5,148.4 93.4,148.7 97.4,149.1 101.3,149.4 105.3,149.8 109.2,150.2 113.2,150.6 117.1,151.0 121.1,151.4 125.0,151.8 129.0,152.2 132.9,152.7 136.9,153.1 140.8,153.6 144.8,154.1 148.7,154.5 152.7,155.0 156.6,155.5 160.6,156.0 164.5,156.5 168.5,157.0 172.4,157.6 176.4,158.1 180.3,158.7 184.3,159.2 188.2,159.8 192.2,160.4 196.1,161.0 200.1,161.6 204.0,162.2" fill="none" stroke="#bbb" stroke-width="0.7"/>
<polyline points="50.0,139.2 53.9,139.5 57.9,139.7 61.8,140.0 65.8,140.3 69.7,140.6 73.7,140.9 77.6,141.2 81.6,141.5 85.5,141.9 89.5,142.2 93.4,142.5 97.4,142.9 101.3,143.2 105.3,143.6 109.2,143.9 113.2,144.3 117.1,144.7 121.1,145.0 125.0,145.4 129.0,145.8 132.9,146.2 136.9,146.6 140.8,147.0 144.8,147.4 148.7,147.9 152.7,148.3 156.6,148.7 160.6,149.2 164.5,149.6 168.5,150.1 172.4,150.5 176.4,151.0 180.3,151.5 184.3,151.9 188.2,152.4 192.2,152.9 196.1,153.4 200.1,153.9 204.0,154.4" fill="none" stroke="#444" stroke-width="0.9"/>
<polyline points="50.0,140.2 53.9,140.5 57.9,140.7 61.8,141.0 65.8,141.3 69.7,141.6 73.7,141.9 77.6,142.2 81.6,142.5 85.5,142.9 89.5,143.2 93.4,143.5 97.4,143.9 101.3,144.2 105.3,144.6 109.2,144.9 113.2,145.3 117.1,145.7 121.1,146.0 125.0,146.4 129.0,146.8 132.9,147.2 136.9,147.6 140.8,148.0 144.8,148.4 148.7,148.9 152.7,149.3 156.6,149.7 160.6,150.2 164.5,150.6 168.5,151.1 172.4,151.5 176.4,152.0 180.3,152.5 184.3,152.9 188.2,153.4 192.2,153.9 196.1,154.4 200.1,154.9 204.0,155.4" fill="none" stroke="#bbb" stroke-width="0.7"/>
<ellipse cx="59.0" cy="171.4" rx="1.5" ry="1.85" fill="url(#gred)"/>
<ellipse cx="74.5" cy="172.6" rx="1.5" ry="1.85" fill="url(#gred)"/>
<ellipse cx="90.0" cy="173.8" rx="1.5" ry="1.85" fill="url(#gred)"/>
<ellipse cx="105.5" cy="175.0" rx="1.5" ry="1.85" fill="url(#gred)"/>
<ellipse cx="121.0" cy="176.2" rx="1.5" ry="1.85" fill="url(#gred)"/>
<ellipse cx="136.5" cy="177.4" rx="1.5" ry="1.85" fill="url(#gred)"/>
<ellipse cx="152.0" cy="178.6" rx="1.5" ry="1.85" fill="url(#gred)"/>
<ellipse cx="167.5" cy="179.8" rx="1.5" ry="1.85" fill="url(#gred)"/>
<ellipse cx="183.0" cy="181.0" rx="1.5" ry="1.85" fill="url(#gred)"/>
<ellipse cx="198.5" cy="182.1" rx="1.5" ry="1.85" fill="url(#gred)"/>
<ellipse cx="51.7" cy="135.1" rx="1.5" ry="1.85" fill="url(#ggreen)"/>
<ellipse cx="67.2" cy="136.1" rx="1.5" ry="1.85" fill="url(#ggreen)"/>
<ellipse cx="82.6" cy="137.1" rx="1.5" ry="1.85" fill="url(#ggreen)"/>
<ellipse cx="98.1" cy="138.2" rx="1.5" ry="1.85" fill="url(#ggreen)"/>
<ellipse cx="113.5" cy="139.4" rx="1.5" ry="1.85" fill="url(#ggreen)"/>
<ellipse cx="129.0" cy="140.7" rx="1.5" ry="1.85" fill="url(#ggreen)"/>
<ellipse cx="144.4" cy="142.1" rx="1.5" ry="1.85" fill="url(#ggreen)"/>
<ellipse cx="159.8" cy="143.6" rx="1.5" ry="1.85" fill="url(#ggreen)"/>
<ellipse cx="175.3" cy="145.2" rx="1.5" ry="1.85" fill="url(#ggreen)"/>
<ellipse cx="190.7" cy="146.9" rx="1.5" ry="1.85" fill="url(#ggreen)"/>
<ellipse cx="53.4" cy="141.6" rx="1.5" ry="1.85" fill="url(#gyellow)"/>
<ellipse cx="68.9" cy="142.8" rx="1.5" ry="1.85" fill="url(#gyellow)"/>
<ellipse cx="84.4" cy="144.1" rx="1.5" ry="1.85" fill="url(#gyellow)"/>
<ellipse cx="99.9" cy="145.5" rx="1.5" ry="1.85" fill="url(#gyellow)"/>
<ellipse cx="115.4" cy="147.0" rx="1.5" ry="1.85" fill="url(#gyellow)"/>
<ellipse cx="130.9" cy="148.6" rx="1.5" ry="1.85" fill="url(#gyellow)"/>
<ellipse cx="146.4" cy="150.3" rx="1.5" ry="1.85" fill="url(#gyellow)"/>
<ellipse cx="161.9" cy="152.1" rx="1.5" ry="1.85" fill="url(#gyellow)"/>
<ellipse cx="177.4" cy="153.9" rx="1.5" ry="1.85" fill="url(#gyellow)"/>
<ellipse cx="192.9" cy="155.9" rx="1.5" ry="1.85" fill="url(#gyellow)"/>
<ellipse cx="58.0" cy="158.0" rx="1.5" ry="1.85" fill="url(#gdarkred)"/>
<ellipse cx="73.5" cy="159.4" rx="1.5" ry="1.85" fill="url(#gdarkred)"/>
<ellipse cx="89.0" cy="160.9" rx="1.5" ry="1.85" fill="url(#gdarkred)"/>
<ellipse cx="104.5" cy="162.6" rx="1.5" ry="1.85" fill="url(#gdarkred)"/>
<ellipse cx="120.0" cy="164.5" rx="1.5" ry="1.85" fill="url(#gdarkred)"/>
<ellipse cx="135.5" cy="166.4" rx="1.5" ry="1.85" fill="url(#gdarkred)"/>
<ellipse cx="151.0" cy="168.5" rx="1.5" ry="1.85" fill="url(#gdarkred)"/>
<ellipse cx="166.5" cy="170.8" rx="1.5" ry="1.85" fill="url(#gdarkred)"/>
<ellipse cx="182.0" cy="173.2" rx="1.5" ry="1.85" fill="url(#gdarkred)"/>
<ellipse cx="197.5" cy="175.7" rx="1.5" ry="1.85" fill="url(#gdarkred)"/>
<ellipse cx="52.9" cy="192.8" rx="1.5" ry="1.85" fill="url(#gmagenta)"/>
<ellipse cx="68.1" cy="193.3" rx="1.5" ry="1.85" fill="url(#gmagenta)"/>
<ellipse cx="83.2" cy="193.8" rx="1.5" ry="1.85" fill="url(#gmagenta)"/>
<ellipse cx="98.4" cy="194.4" rx="1.5" ry="1.85" fill="url(#gmagenta)"/>
<ellipse cx="113.6" cy="195.0" rx="1.5" ry="1.85" fill="url(#gmagenta)"/>
<ellipse cx="128.8" cy="195.6" rx="1.5" ry="1.85" fill="url(#gmagenta)"/>
<ellipse cx="143.9" cy="196.2" rx="1.5" ry="1.85" fill="url(#gmagenta)"/>
<ellipse cx="159.1" cy="196.9" rx="1.5" ry="1.85" fill="url(#gmagenta)"/>
<ellipse cx="174.3" cy="197.6" rx="1.5" ry="1.85" fill="url(#gmagenta)"/>
<ellipse cx="189.4" cy="198.4" rx="1.5" ry="1.85" fill="url(#gmagenta)"/>
<ellipse cx="54.3" cy="144.7" rx="1.5" ry="1.85" fill="url(#gblue)"/>
<ellipse cx="69.8" cy="145.8" rx="1.5" ry="1.85" fill="url(#gblue)"/>
<ellipse cx="85.3" cy="147.0" rx="1.5" ry="1.85" fill="url(#gblue)"/>
<ellipse cx="100.8" cy="148.4" rx="1.5" ry="1.85" fill="url(#gblue)"/>
<ellipse cx="116.3" cy="149.9" rx="1.5" ry="1.85" fill="url(#gblue)"/>
<ellipse cx="131.8" cy="151.6" rx="1.5" ry="1.85" fill="url(#gblue)"/>
<ellipse cx="147.3" cy="153.4" rx="1.5" ry="1.85" fill="url(#gblue)"/>
<ellipse cx="162.8" cy="155.3" rx="1.5" ry="1.85" fill="url(#gblue)"/>
<ellipse cx="178.3" cy="157.4" rx="1.5" ry="1.85" fill="url(#gblue)"/>
<ellipse cx="193.8" cy="159.6" rx="1.5" ry="1.85" fill="url(#gblue)"/>
<ellipse cx="52.9" cy="139.4" rx="1.5" ry="1.85" fill="url(#gblack)"/>
<ellipse cx="68.4" cy="140.5" rx="1.5" ry="1.85" fill="url(#gblack)"/>
<ellipse cx="83.9" cy="141.7" rx="1.5" ry="1.85" fill="url(#gblack)"/>
<ellipse cx="99.4" cy="143.1" rx="1.5" ry="1.85" fill="url(#gblack)"/>
<ellipse cx="114.9" cy="144.5" rx="1.5" ry="1.85" fill="url(#gblack)"/>
<ellipse cx="130.4" cy="146.0" rx="1.5" ry="1.85" fill="url(#gblack)"/>
<ellipse cx="145.9" cy="147.6" rx="1.5" ry="1.85" fill="url(#gblack)"/>
<ellipse cx="161.4" cy="149.3" rx="1.5" ry="1.85" fill="url(#gblack)"/>
<ellipse cx="176.9" cy="151.0" rx="1.5" ry="1.85" fill="url(#gblack)"/>
<ellipse cx="192.4" cy="152.9" rx="1.5" ry="1.85" fill="url(#gblack)"/>
</g>
<path d="M87.3 225v-2 M125.7 225v-2 M164.1 225v-2 M202.5 225v-2 M65.9 112.8v1.8 M81.4 112.8v1.8 M96.9 112.8v1.8 M112.4 112.8v1.8 M127.9 112.8v1.8 M143.4 112.8v1.8 M158.9 112.8v1.8 M174.4 112.8v1.8 M189.9 112.8v1.8 M50.5 127.0h2 M202.9 127.0h-2 M50.5 172.2h2 M202.9 172.2h-2 M50.5 217.4h2 M202.9 217.4h-2" stroke="#777" stroke-width="0.8" fill="none"/>
<text x="49" y="129.0" font-family="Liberation Sans, Arial, sans-serif" font-weight="bold" font-size="5.6" fill="#333" text-anchor="end" transform="translate(49 0) scale(0.78 1) translate(-49 0)">20</text>
<text x="49" y="174.2" font-family="Liberation Sans, Arial, sans-serif" font-weight="bold" font-size="5.6" fill="#333" text-anchor="end" transform="translate(49 0) scale(0.78 1) translate(-49 0)">18</text>
<text x="49" y="219.4" font-family="Liberation Sans, Arial, sans-serif" font-weight="bold" font-size="5.6" fill="#333" text-anchor="end" transform="translate(49 0) scale(0.78 1) translate(-49 0)">16</text>
<text x="87.3" y="230.8" font-family="Liberation Sans, Arial, sans-serif" font-weight="bold" font-size="4.8" fill="#333" text-anchor="middle" transform="translate(87.3 0) scale(0.86 1) translate(-87.3 0)">0,05</text>
<text x="125.7" y="230.8" font-family="Liberation Sans, Arial, sans-serif" font-weight="bold" font-size="4.8" fill="#333" text-anchor="middle" transform="translate(125.7 0) scale(0.86 1) translate(-125.7 0)">0,10</text>
<text x="164.1" y="230.8" font-family="Liberation Sans, Arial, sans-serif" font-weight="bold" font-size="4.8" fill="#333" text-anchor="middle" transform="translate(164.1 0) scale(0.86 1) translate(-164.1 0)">0,15</text>
<text x="202.5" y="230.8" font-family="Liberation Sans, Arial, sans-serif" font-weight="bold" font-size="4.8" fill="#333" text-anchor="middle" transform="translate(202.5 0) scale(0.86 1) translate(-202.5 0)">0,20</text>
<g fill="none" stroke="#ee4c5c" stroke-opacity="0.78" stroke-width="1.8" stroke-dasharray="2.8 6.45"><path d="M32.2 22H114.5"/><path d="M32.2 76.3H114.5"/><path d="M114.3 24.5V76"/></g>
<path d="M80.5 76.6 C 62 86, 52 94, 60 100 C 62 102, 64 104, 68 106" fill="none" stroke="#ee0000" stroke-width="2.2"/>
<path d="M77 111.6 L66.4 109 L70.2 102.6 Z" fill="#ee0000"/>
<rect x="33.2" y="1.1" width="317.5" height="249.2" fill="none" stroke="#333" stroke-width="1.4"/>
<path d="M112.6 250.3v-5 M192.1 250.3v-5 M271.6 250.3v-5 M33.2 194.9h4.4 M33.2 139.5h4.4 M33.2 84.1h4.4 M33.2 28.7h4.4" stroke="#222" stroke-width="1.2" fill="none"/>
<text x="28.2" y="254.3" font-family="Liberation Sans, Arial, sans-serif" font-weight="bold" stroke="#111" stroke-width="0.2" font-size="12" fill="#111" text-anchor="end" transform="translate(28.2 0) scale(0.78 1) translate(-28.2 0)">0</text>
<text x="28.2" y="198.9" font-family="Liberation Sans, Arial, sans-serif" font-weight="bold" stroke="#111" stroke-width="0.2" font-size="12" fill="#111" text-anchor="end" transform="translate(28.2 0) scale(0.78 1) translate(-28.2 0)">5</text>
<text x="28.2" y="143.5" font-family="Liberation Sans, Arial, sans-serif" font-weight="bold" stroke="#111" stroke-width="0.2" font-size="12" fill="#111" text-anchor="end" transform="translate(28.2 0) scale(0.78 1) translate(-28.2 0)">10</text>
<text x="28.2" y="88.1" font-family="Liberation Sans, Arial, sans-serif" font-weight="bold" stroke="#111" stroke-width="0.2" font-size="12" fill="#111" text-anchor="end" transform="translate(28.2 0) scale(0.78 1) translate(-28.2 0)">15</text>
<text x="28.2" y="32.7" font-family="Liberation Sans, Arial, sans-serif" font-weight="bold" stroke="#111" stroke-width="0.2" font-size="12" fill="#111" text-anchor="end" transform="translate(28.2 0) scale(0.78 1) translate(-28.2 0)">20</text>
<text x="33.1" y="265.8" font-family="Liberation Sans, Arial, sans-serif" font-weight="bold" stroke="#111" stroke-width="0.2" font-size="10.7" fill="#111" text-anchor="middle" transform="translate(33.1 0) scale(0.9 1) translate(-33.1 0)">0,0</text>
<text x="112.6" y="265.8" font-family="Liberation Sans, Arial, sans-serif" font-weight="bold" stroke="#111" stroke-width="0.2" font-size="10.7" fill="#111" text-anchor="middle" transform="translate(112.6 0) scale(0.9 1) translate(-112.6 0)">0,2</text>
<text x="192.1" y="265.8" font-family="Liberation Sans, Arial, sans-serif" font-weight="bold" stroke="#111" stroke-width="0.2" font-size="10.7" fill="#111" text-anchor="middle" transform="translate(192.1 0) scale(0.9 1) translate(-192.1 0)">0,4</text>
<text x="271.6" y="265.8" font-family="Liberation Sans, Arial, sans-serif" font-weight="bold" stroke="#111" stroke-width="0.2" font-size="10.7" fill="#111" text-anchor="middle" transform="translate(271.6 0) scale(0.9 1) translate(-271.6 0)">0,6</text>
<text x="351.1" y="265.8" font-family="Liberation Sans, Arial, sans-serif" font-weight="bold" stroke="#111" stroke-width="0.2" font-size="10.7" fill="#111" text-anchor="middle" transform="translate(351.1 0) scale(0.9 1) translate(-351.1 0)">0,8</text>
<text x="191.7" y="281" font-family="Liberation Sans, Arial, sans-serif" font-weight="bold" stroke="#111" stroke-width="0.2" font-size="10.7" fill="#111" text-anchor="middle" transform="translate(191.7 0) scale(0.9 1) translate(-191.7 0)">Voltage (V)</text>
<text font-family="Liberation Sans, Arial, sans-serif" font-weight="bold" font-size="10.4" fill="#111" stroke="#111" stroke-width="0.2" transform="translate(13.3 201.5) rotate(-90)" textLength="44.2" lengthAdjust="spacingAndGlyphs">Current</text>
<text font-family="Liberation Sans, Arial, sans-serif" font-weight="bold" font-size="10.4" fill="#111" stroke="#111" stroke-width="0.2" transform="translate(13.3 155.2) rotate(-90)" textLength="44.0" lengthAdjust="spacingAndGlyphs">density</text>
<text font-family="Liberation Sans, Arial, sans-serif" font-weight="bold" font-size="10.4" fill="#111" stroke="#111" stroke-width="0.2" transform="translate(13.3 103.1) rotate(-90)" textLength="40.7" lengthAdjust="spacingAndGlyphs">mA/cm</text>
<text font-family="Liberation Sans, Arial, sans-serif" font-size="12.5" fill="#111" transform="translate(12.9 107.6) rotate(-90)">(</text>
<text font-family="Liberation Sans, Arial, sans-serif" font-size="12.5" fill="#111" transform="translate(12.9 54.9) rotate(-90)">)</text>
<text font-family="Liberation Sans, Arial, sans-serif" font-weight="bold" font-size="10.3" fill="#111" stroke="#111" stroke-width="0.2" transform="translate(8.7 62.7) rotate(-90)">2</text>
<defs><linearGradient id="gm" x1="0" x2="1" y1="0" y2="0"><stop offset="0" stop-color="#7a7a7a"/><stop offset="0.5" stop-color="#a8a8a8"/><stop offset="1" stop-color="#7a7a7a"/></linearGradient></defs><rect x="288.9" y="181.8" width="2.7" height="9" fill="url(#gm)"/><rect x="288.9" y="181.8" width="2.7" height="1.2" fill="#606060"/>
<path d="M275.8 24.8H294.8" stroke="#111" stroke-width="1.6"/>
<ellipse cx="285.4" cy="24.8" rx="2.7" ry="3.4" fill="url(#gred)"/>
<text x="297.2" y="29.0" font-family="Liberation Sans, Arial, sans-serif" font-weight="bold" stroke="#111" stroke-width="0.2" font-size="10.3" fill="#111" transform="translate(297.2 0) scale(0.775 1) translate(-297.2 0)">PCBM</text>
<path d="M275.8 37.8H294.8" stroke="#111" stroke-width="1.6"/>
<ellipse cx="285.4" cy="37.8" rx="2.7" ry="3.4" fill="url(#ggreen)"/>
<text x="297.2" y="42.0" font-family="Liberation Sans, Arial, sans-serif" font-weight="bold" stroke="#111" stroke-width="0.2" font-size="10.3" fill="#111" transform="translate(297.2 0) scale(0.775 1) translate(-297.2 0)">ZnO</text>
<path d="M275.8 50.7H294.8" stroke="#111" stroke-width="1.6"/>
<ellipse cx="285.4" cy="50.7" rx="2.7" ry="3.4" fill="url(#gyellow)"/>
<text x="297.2" y="54.9" font-family="Liberation Sans, Arial, sans-serif" font-weight="bold" stroke="#111" stroke-width="0.2" font-size="10.3" fill="#111" transform="translate(297.2 0) scale(0.775 1) translate(-297.2 0)">TiO2</text>
<path d="M275.8 63.6H294.8" stroke="#111" stroke-width="1.6"/>
<ellipse cx="285.4" cy="63.6" rx="2.7" ry="3.4" fill="url(#gdarkred)"/>
<text x="297.2" y="67.8" font-family="Liberation Sans, Arial, sans-serif" font-weight="bold" stroke="#111" stroke-width="0.2" font-size="10.3" fill="#111" transform="translate(297.2 0) scale(0.775 1) translate(-297.2 0)">CdS</text>
<path d="M275.8 76.6H294.8" stroke="#111" stroke-width="1.6"/>
<ellipse cx="285.4" cy="76.6" rx="2.7" ry="3.4" fill="url(#gmagenta)"/>
<text x="297.2" y="80.8" font-family="Liberation Sans, Arial, sans-serif" font-weight="bold" stroke="#111" stroke-width="0.2" font-size="10.3" fill="#111" transform="translate(297.2 0) scale(0.775 1) translate(-297.2 0)">C60</text>
<path d="M275.8 89.5H294.8" stroke="#111" stroke-width="1.6"/>
<ellipse cx="285.4" cy="89.5" rx="2.7" ry="3.4" fill="url(#gblue)"/>
<text x="297.2" y="93.8" font-family="Liberation Sans, Arial, sans-serif" font-weight="bold" stroke="#111" stroke-width="0.2" font-size="10.3" fill="#111" transform="translate(297.2 0) scale(0.775 1) translate(-297.2 0)">Cd0,5Zn0,5S</text>
<path d="M278.4 102.5H296.6" stroke="#111" stroke-width="1.6"/>
<ellipse cx="287.6" cy="102.5" rx="2.7" ry="3.4" fill="url(#gblack)"/>
<text x="299.6" y="106.7" font-family="Liberation Sans, Arial, sans-serif" font-weight="bold" stroke="#111" stroke-width="0.2" font-size="10.3" fill="#111" transform="translate(299.6 0) scale(0.775 1) translate(-299.6 0)">IGZO</text>
</svg>
</body></html>
